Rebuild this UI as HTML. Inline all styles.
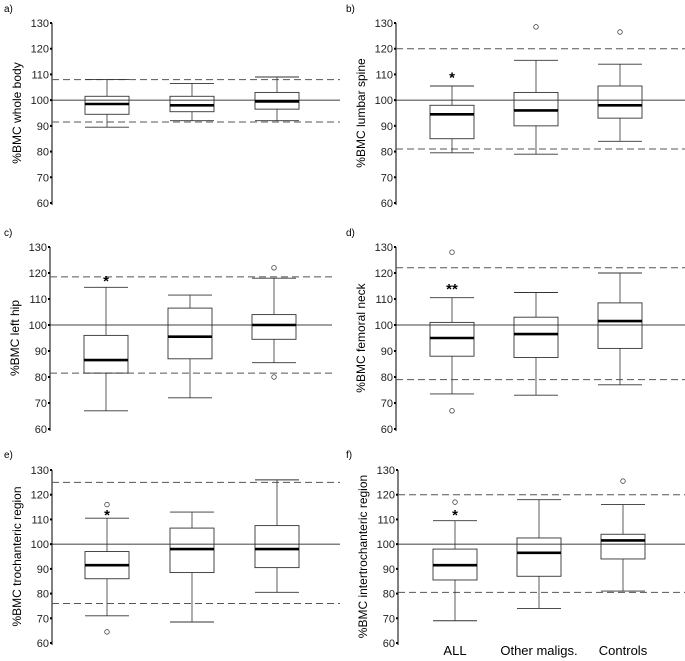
<!DOCTYPE html>
<html><head><meta charset="utf-8"><style>
body{margin:0;background:#fff;}
svg{display:block;font-family:"Liberation Sans",sans-serif;}
</style></head><body>
<svg id="c" width="685" height="661"></svg>
<script>
const categories=["ALL","Other maligs.","Controls"];
const panelLabels=["a)","b)","c)","d)","e)","f)"];
const yTitles=["%BMC whole body","%BMC lumbar spine","%BMC left hip","%BMC femoral neck","%BMC trochanteric region","%BMC intertrochanteric region"];
const yTicks=[60,70,80,90,100,110,120,130];
// [whiskerLow, q1, median, q3, whiskerHigh]
const statsA=[[89.5,94.5,98.5,101.5,108],[92,95.5,98,101.5,106.5],[92,96.5,99.5,103,109]];
const statsB=[[79.5,85,94.5,98,105.5],[79,90,96,103,115.5],[84,93,98,105.5,114]];
const statsC=[[67,81.5,86.5,96,114.5],[72,87,95.5,106.5,111.5],[85.5,94.5,100,104,118]];
const statsD=[[73.5,88,95,101,110.5],[73,87.5,96.5,103,112.5],[77,91,101.5,108.5,120]];
const statsE=[[71,86,91.5,97,110.5],[68.5,88.5,98,106.5,113],[80.5,90.5,98,107.5,126]];
const statsF=[[69,85.5,91.5,98,109.5],[74,87,96.5,102.5,118],[81,94,101.5,104,116]];
const outliersA=[[],[],[]];
const outliersB=[[],[128.5],[126.5]];
const outliersC=[[],[],[122,80]];
const outliersD=[[128,67],[],[]];
const outliersE=[[116,64.5],[],[]];
const outliersF=[[117],[],[125.5]];
const refHigh=[108,120,118.5,122,125,120];
const refLow=[91.5,81,81.5,79,76,80.5];
const starText=["","*","*","**","*","*"];
const starValue=[0,110,118,115,113,113];
const allStats=[statsA,statsB,statsC,statsD,statsE,statsF];
const allOut=[outliersA,outliersB,outliersC,outliersD,outliersE,outliersF];

const svg=document.getElementById('c');
const NS="http://www.w3.org/2000/svg";
function mk(tag,attrs,parent){const e=document.createElementNS(NS,tag);for(const k in attrs)e.setAttribute(k,attrs[k]);(parent||svg).appendChild(e);return e;}
// layout geometry
const geo=[
 {ax:52,top:23,bot:203,right:340,cx0:107,dx:85,lx:4,ly:12},
 {ax:396,top:23,bot:203,right:685,cx0:452,dx:84,lx:346,ly:12},
 {ax:50,top:247,bot:429,right:332,cx0:106,dx:84,lx:4,ly:236},
 {ax:396,top:247,bot:429,right:685,cx0:452,dx:84,lx:346,ly:236},
 {ax:52,top:470,bot:643,right:340,cx0:107,dx:85,lx:4,ly:458},
 {ax:398,top:470,bot:643,right:685,cx0:455,dx:84,lx:346,ly:458}
];
const bw=44;
geo.forEach((g,p)=>{
  const grp=mk('g',{});
  
  
  const y=v=>g.bot-(v-60)/70*(g.bot-g.top);
  const lab=mk('text',{x:g.lx,y:g.ly,'font-size':10},grp);lab.textContent=panelLabels[p];
  
  const axis=mk('line',{x1:g.ax,x2:g.ax,y1:y(130),y2:y(60)+2,stroke:'#000','stroke-width':1},grp);
  
  yTicks.forEach(t=>{
    mk('rect',{x:g.ax-2,y:y(t)-1,width:2,height:2,fill:'#000'},grp);
    const tx=mk('text',{x:g.ax-3,y:y(t)+4,'font-size':11,'text-anchor':'end',fill:'#222'},grp);tx.textContent=t;
    
  });
  const yt=mk('text',{x:0,y:0,'font-size':12,'text-anchor':'middle',transform:`translate(${g.ax-31},${(g.top+g.bot)/2}) rotate(-90)`},grp);
  yt.textContent=yTitles[p];
  const l100=mk('line',{x1:g.ax,x2:g.right,y1:y(100),y2:y(100),stroke:'#000','stroke-width':0.8},grp);
  
  [refHigh[p],refLow[p]].forEach((r,i)=>{
    const d=mk('line',{x1:g.ax,x2:g.right,y1:y(r),y2:y(r),stroke:'#555','stroke-width':1,'stroke-dasharray':'7,4'},grp);
    
  });
  allStats[p].forEach((s,i)=>{
    const cx=g.cx0+i*g.dx;
    const b=mk('g',{},grp);
    mk('line',{x1:cx,x2:cx,y1:y(s[0]),y2:y(s[1]),stroke:'#333','stroke-width':0.8},b);
    mk('line',{x1:cx,x2:cx,y1:y(s[3]),y2:y(s[4]),stroke:'#333','stroke-width':0.8},b);
    mk('line',{x1:cx-bw/2,x2:cx+bw/2,y1:y(s[0]),y2:y(s[0]),stroke:'#333','stroke-width':0.9},b);
    mk('line',{x1:cx-bw/2,x2:cx+bw/2,y1:y(s[4]),y2:y(s[4]),stroke:'#333','stroke-width':0.9},b);
    mk('rect',{x:cx-bw/2,y:y(s[3]),width:bw,height:y(s[1])-y(s[3]),fill:'#fff','fill-opacity':0,stroke:'#333','stroke-width':0.9},b);
    mk('line',{x1:cx-bw/2,x2:cx+bw/2,y1:y(s[2]),y2:y(s[2]),stroke:'#000','stroke-width':2.6},b);
    allOut[p][i].forEach(o=>{const c=mk('circle',{cx:cx,cy:y(o),r:2.3,fill:'none',stroke:'#444','stroke-width':0.8},b);
      });
    if(i===0&&starText[p]){const st=mk('text',{x:cx,y:y(starValue[p])+8,'font-size':15,'font-weight':'bold','text-anchor':'middle'},b);st.textContent=starText[p];
      }
    if(p>=4 && p===5){const xl=mk('text',{x:cx,y:655,'font-size':13,'text-anchor':'middle'},grp);xl.textContent=categories[i];
      }
  });
});
</script>
</body></html>
